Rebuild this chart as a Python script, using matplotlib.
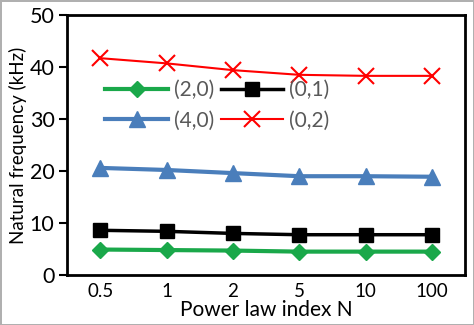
import numpy as np
import matplotlib.pyplot as plt

# Data
n_labels = ['0.5', '1', '2', '5', '10', '100']
mode_20 = [4.9, 4.8, 4.7, 4.5, 4.5, 4.5]
mode_01 = [8.6, 8.4, 8.0, 7.75, 7.75, 7.75]
mode_40 = [20.6, 20.2, 19.6, 19.0, 19.0, 18.9]
mode_02 = [41.7, 40.7, 39.4, 38.5, 38.3, 38.3]

plt.rcParams['font.family'] = ['Lato', 'DejaVu Sans']

fig = plt.figure(figsize=(4.74, 3.25), dpi=100)
fig.patch.set_edgecolor('#b0b0b0')
fig.patch.set_linewidth(2)
ax = fig.add_axes([0.1414, 0.1538, 0.8397, 0.8])

x = np.arange(len(n_labels))
h20, = ax.plot(x, mode_20, color='#1aa84a', lw=3, marker='D', ms=8, label='(2,0)')
h01, = ax.plot(x, mode_01, color='black', lw=2.5, marker='s', ms=10, label='(0,1)')
h40, = ax.plot(x, mode_40, color='#4a7ebb', lw=3, marker='^', ms=11, label='(4,0)')
h02, = ax.plot(x, mode_02, color='#ff0000', lw=1.5, marker='x', ms=11, mew=1.5, label='(0,2)')

ax.set_xlim(-0.5, len(n_labels) - 0.5)
ax.set_ylim(0, 50)
ax.set_yticks([0, 10, 20, 30, 40, 50])
ax.set_xticks(x)
ax.set_xticklabels(n_labels)
ax.tick_params(axis='y', labelsize=15.5, length=6, width=1.5, pad=3)
ax.tick_params(axis='x', labelsize=13.5, length=0, pad=6)
for s in ax.spines.values():
    s.set_linewidth(2)

ax.set_ylabel('Natural frequency (kHz)', fontsize=13.5, labelpad=2)
ax.set_xlabel('Power law index N', fontsize=15, labelpad=0)

# column-wise fill: (2,0)/(4,0) in first column, (0,1)/(0,2) in second
leg = ax.legend([h20, h40, h01, h02], ['(2,0)', '(4,0)', '(0,1)', '(0,2)'],
                ncol=2, loc='upper left', bbox_to_anchor=(0.07, 0.79),
                frameon=False, fontsize=15, handlelength=3.0,
                columnspacing=0.3, handletextpad=0.3, labelspacing=0.5,
                borderpad=0)
for t in leg.get_texts():
    t.set_color('#595959')

fig.savefig('out.png', dpi=100)
